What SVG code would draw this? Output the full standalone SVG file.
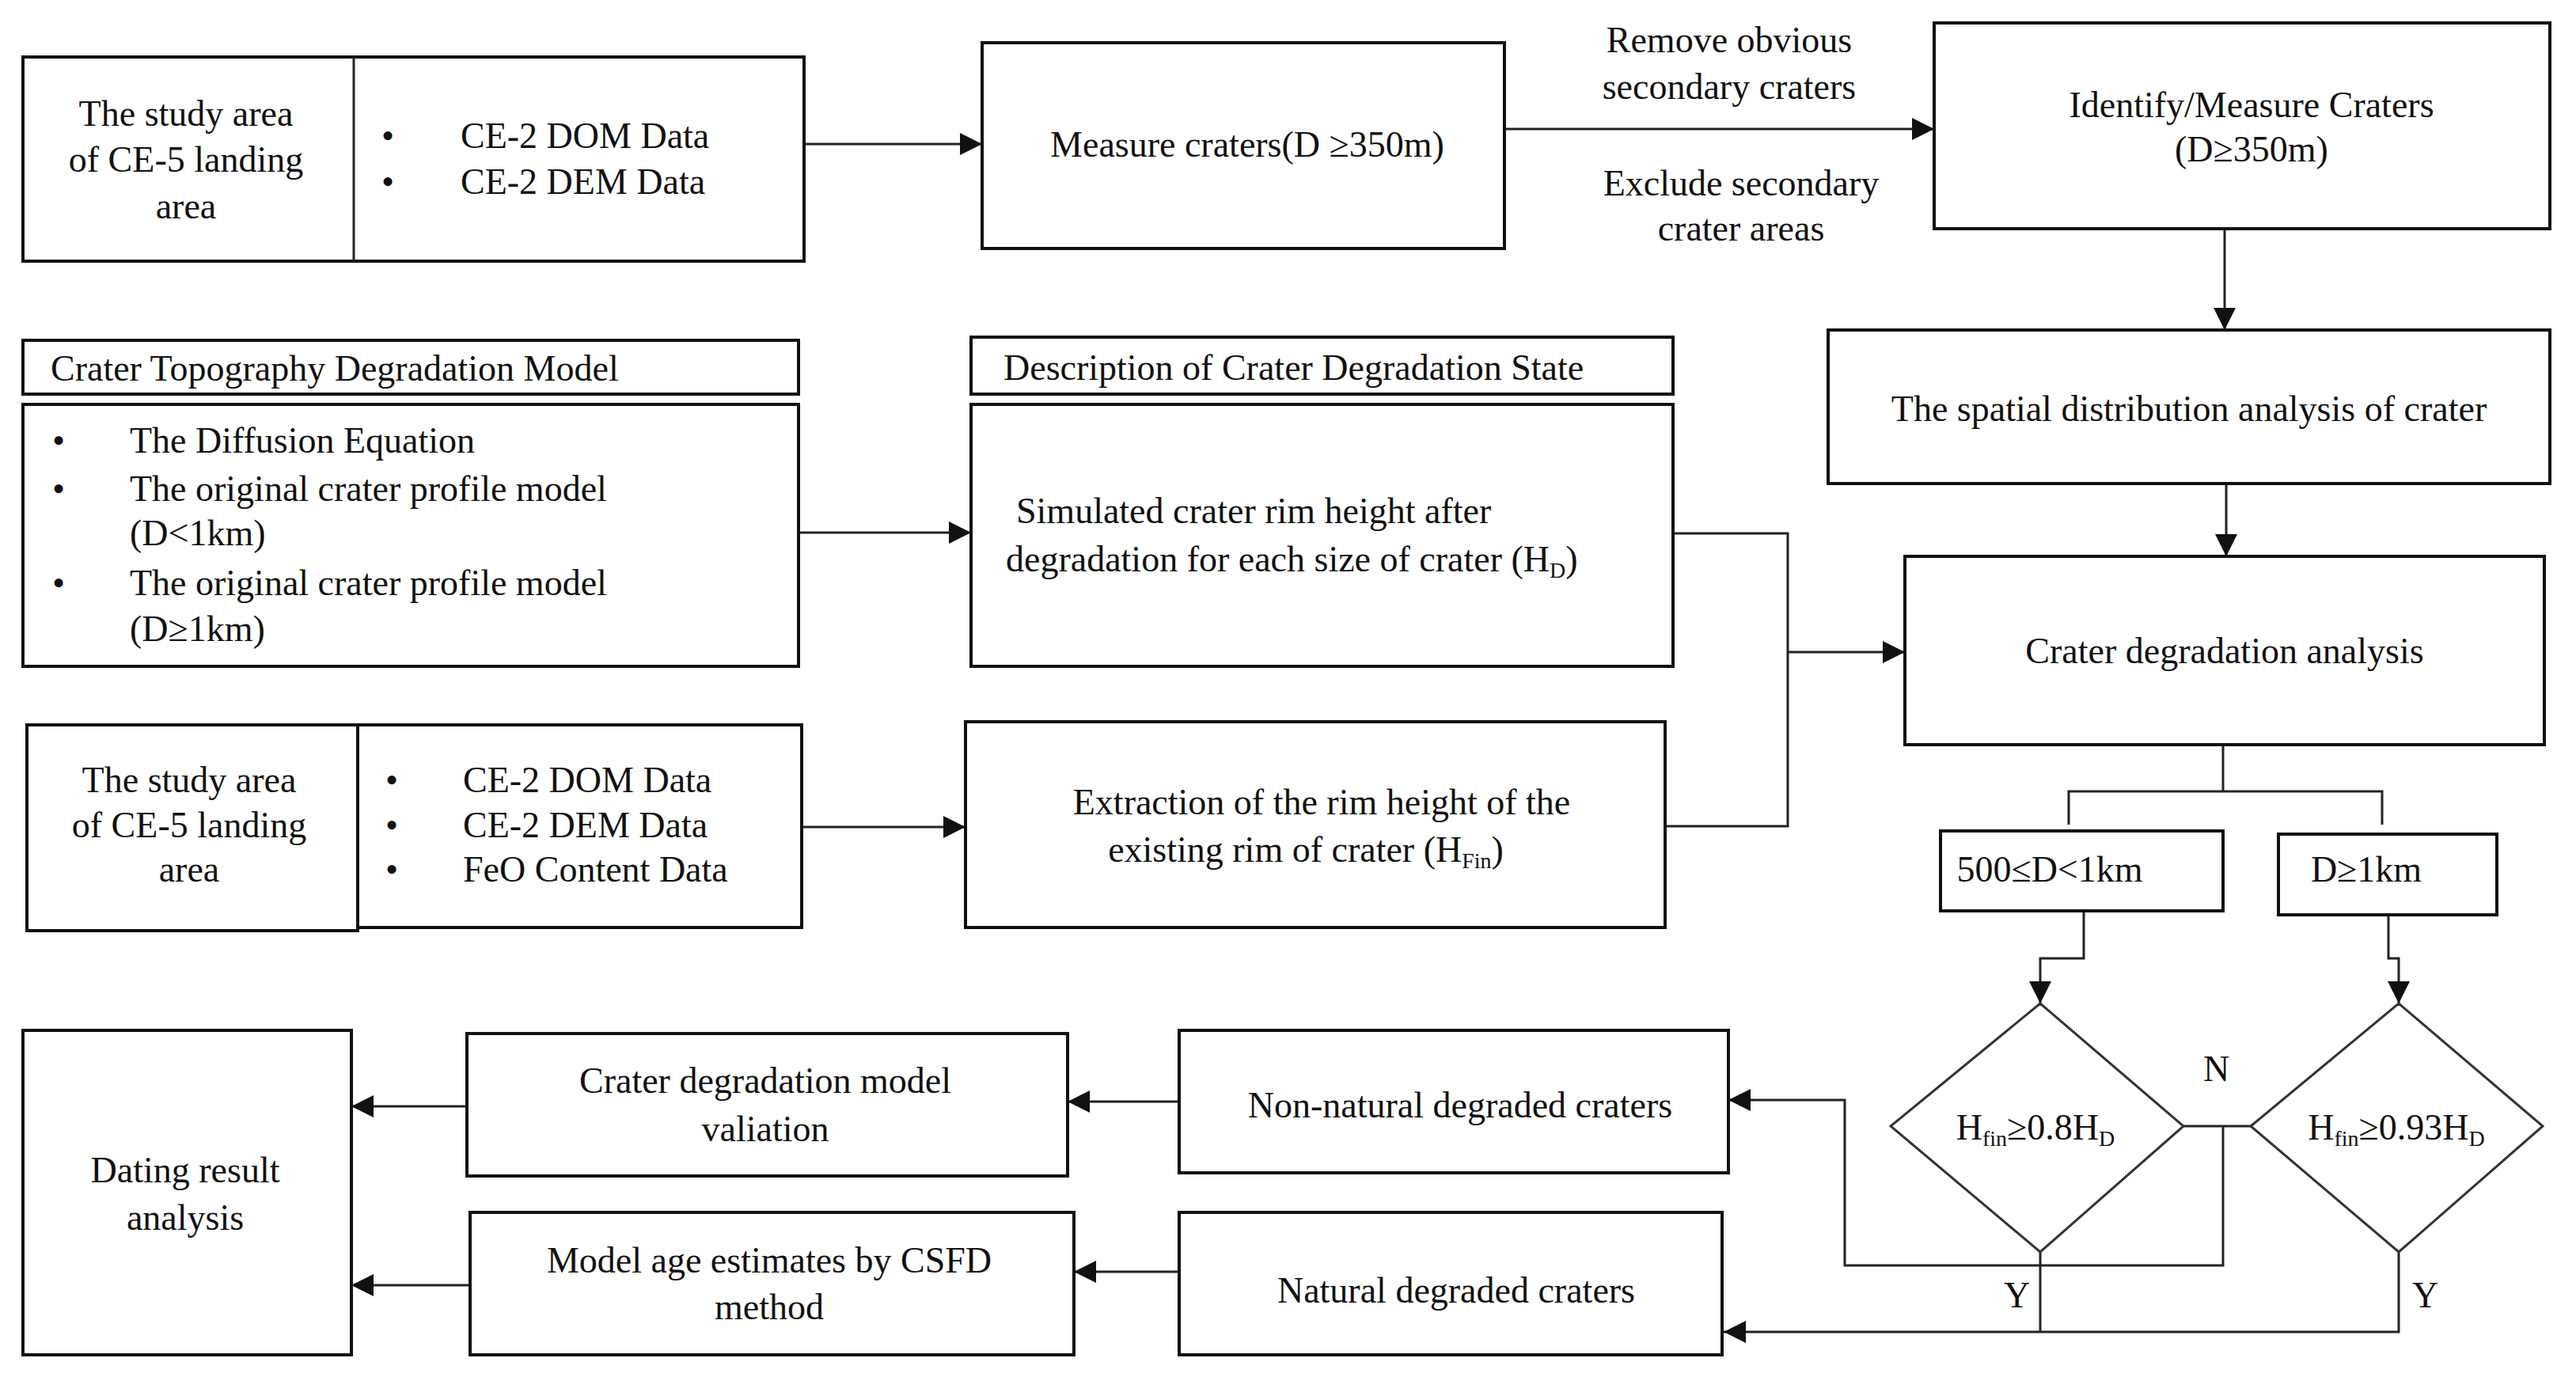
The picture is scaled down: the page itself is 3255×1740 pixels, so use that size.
<svg xmlns="http://www.w3.org/2000/svg" width="3255" height="1740" viewBox="0 0 3255 1740">
<style>
text{font-family:"Liberation Serif","Times New Roman",serif;font-size:46px;fill:#111}
.c{text-anchor:middle}
.b{fill:#fff;stroke:#111;stroke-width:4}
.d{fill:#fff;stroke:#333;stroke-width:3}
.l{fill:none;stroke:#222;stroke-width:3}
.s{font-size:28px}
</style>
<defs>
<marker id="a" viewBox="0 0 10 10" refX="10" refY="5" markerWidth="9" markerHeight="9" markerUnits="userSpaceOnUse" orient="auto"><path d="M0,0 L10,5 L0,10 z" fill="#111"/></marker>
<marker id="m" viewBox="0 0 10 10" refX="10" refY="5" markerWidth="28" markerHeight="28" markerUnits="userSpaceOnUse" orient="auto"><path d="M0,0 L10,5 L0,10 z" fill="#111"/></marker>
</defs>
<g id="connectors">
<path class="l" d="M1016,182 H1241" marker-end="url(#m)"/>
<path class="l" d="M1901,163 H2444" marker-end="url(#m)"/>
<path class="l" d="M2811,289 V417" marker-end="url(#m)"/>
<path class="l" d="M2813,611 V703" marker-end="url(#m)"/>
<path class="l" d="M1009,673 H1227" marker-end="url(#m)"/>
<path class="l" d="M2114,674 H2259 V1044 H2104"/>
<path class="l" d="M2259,824 H2407" marker-end="url(#m)"/>
<path class="l" d="M1013,1045 H1220" marker-end="url(#m)"/>
<path class="l" d="M2809,941 V1000 M2614,1042 V1000 H3010 V1042"/>
<path class="l" d="M2633,1151 V1211 H2578 V1268" marker-end="url(#m)"/>
<path class="l" d="M3018,1156 V1211 H3031 V1268" marker-end="url(#m)"/>
<path class="l" d="M2759,1423 H2844 M2809,1423 V1599 H2331 V1390 H2184" marker-end="url(#m)"/>
<path class="l" d="M2578,1582 V1683 M3031,1582 V1683 H2178" marker-end="url(#m)"/>
<path class="l" d="M1490,1392 H1349" marker-end="url(#m)"/>
<path class="l" d="M1490,1607 H1357" marker-end="url(#m)"/>
<path class="l" d="M590,1398 H444" marker-end="url(#m)"/>
<path class="l" d="M594,1624 H444" marker-end="url(#m)"/>
<text class="c" x="2185" y="66">Remove obvious</text>
<text class="c" x="2185" y="125">secondary craters</text>
<text class="c" x="2200" y="247">Exclude  secondary</text>
<text class="c" x="2200" y="304">crater areas</text>
<text x="2784" y="1366">N</text>
<text x="2532" y="1652">Y</text>
<text x="3048" y="1652">Y</text>
</g>
<g id="studyArea1">
<rect class="b" x="29" y="72" width="987" height="258"/>
<line class="l" x1="447" y1="72" x2="447" y2="330" stroke-width="4"/>
<text class="c" x="235" y="159">The study area</text>
<text class="c" x="235" y="217">of CE-5 landing</text>
<text class="c" x="235" y="276">area</text>
<text x="482" y="187">•</text><text x="582" y="187">CE-2 DOM Data</text>
<text x="482" y="245">•</text><text x="582" y="245">CE-2 DEM Data</text>
</g>
<g id="measure">
<rect class="b" x="1241" y="54" width="660" height="260"/>
<text class="c" x="1576" y="198">Measure craters(D ≥350m)</text>
</g>
<g id="identify">
<rect class="b" x="2444" y="29" width="778" height="260"/>
<text class="c" x="2845" y="148">Identify/Measure Craters</text>
<text class="c" x="2845" y="204">(D≥350m)</text>
</g>
<g id="spatial">
<rect class="b" x="2310" y="417" width="912" height="194"/>
<text class="c" x="2766" y="532">The spatial distribution analysis of crater</text>
</g>
<g id="degAnalysis">
<rect class="b" x="2407" y="703" width="808" height="238"/>
<text class="c" x="2811" y="838">Crater degradation  analysis</text>
</g>
<g id="topoModelTitle">
<rect class="b" x="29" y="430" width="980" height="68"/>
<text x="64" y="481">Crater Topography Degradation Model</text>
</g>
<g id="topoModel">
<rect class="b" x="29" y="511" width="980" height="331"/>
<text x="66" y="572">•</text><text x="164" y="572">The Diffusion Equation</text>
<text x="66" y="633">•</text><text x="164" y="633">The original  crater profile model</text>
<text x="164" y="689">(D&lt;1km)</text>
<text x="66" y="752">•</text><text x="164" y="752">The original  crater profile model</text>
<text x="164" y="810">(D≥1km)</text>
</g>
<g id="descTitle">
<rect class="b" x="1227" y="426" width="887" height="72"/>
<text x="1268" y="480">Description of Crater Degradation State</text>
</g>
<g id="simulated">
<rect class="b" x="1227" y="511" width="887" height="331"/>
<text x="1284" y="661">Simulated  crater rim height after</text>
<text x="1271" y="722">degradation for each size of crater (H<tspan class="s" dy="8">D</tspan><tspan dy="-8">)</tspan></text>
</g>
<g id="studyArea2">
<rect class="b" x="452" y="916" width="561" height="256"/>
<rect class="b" x="34" y="916" width="418" height="260"/>
<text class="c" x="239" y="1001">The study area</text>
<text class="c" x="239" y="1058">of CE-5 landing</text>
<text class="c" x="239" y="1114">area</text>
<text x="487" y="1001">•</text><text x="585" y="1001">CE-2 DOM Data</text>
<text x="487" y="1058">•</text><text x="585" y="1058">CE-2 DEM Data</text>
<text x="487" y="1114">•</text><text x="585" y="1114">FeO Content Data</text>
</g>
<g id="extraction">
<rect class="b" x="1220" y="912" width="884" height="260"/>
<text class="c" x="1670" y="1029">Extraction  of the rim height of the</text>
<text class="c" x="1650" y="1089">existing  rim of crater  (H<tspan class="s" dy="8">Fin</tspan><tspan dy="-8">)</tspan></text>
</g>
<g id="size1">
<rect class="b" x="2452" y="1050" width="357" height="101"/>
<text class="c" x="2590" y="1114">500≤D&lt;1km</text>
</g>
<g id="size2">
<rect class="b" x="2879" y="1054" width="276" height="102"/>
<text class="c" x="2990" y="1114">D≥1km</text>
</g>
<g id="diamond1">
<polygon class="d" points="2578,1268 2759,1423 2578,1582 2389,1423"/>
<text class="c" x="2572" y="1440">H<tspan class="s" dy="8">fin</tspan><tspan dy="-8">≥0.8H</tspan><tspan class="s" dy="8">D</tspan></text>
</g>
<g id="diamond2">
<polygon class="d" points="3031,1268 3213,1423 3031,1582 2844,1423"/>
<text class="c" x="3028" y="1440">H<tspan class="s" dy="8">fin</tspan><tspan dy="-8">≥0.93H</tspan><tspan class="s" dy="8">D</tspan></text>
</g>
<g id="nonNatural">
<rect class="b" x="1490" y="1302" width="694" height="180"/>
<text class="c" x="1845" y="1412">Non-natural degraded  craters</text>
</g>
<g id="natural">
<rect class="b" x="1490" y="1532" width="686" height="180"/>
<text class="c" x="1840" y="1646">Natural degraded  craters</text>
</g>
<g id="validation">
<rect class="b" x="590" y="1306" width="759" height="180"/>
<text class="c" x="967" y="1381">Crater degradation  model</text>
<text class="c" x="967" y="1442">valiation</text>
</g>
<g id="modelAge">
<rect class="b" x="594" y="1532" width="763" height="180"/>
<text class="c" x="972" y="1608">Model age  estimates by CSFD</text>
<text class="c" x="972" y="1667">method</text>
</g>
<g id="dating">
<rect class="b" x="29" y="1302" width="415" height="410"/>
<text class="c" x="234" y="1494">Dating result</text>
<text class="c" x="234" y="1554">analysis</text>
</g>
</svg>
